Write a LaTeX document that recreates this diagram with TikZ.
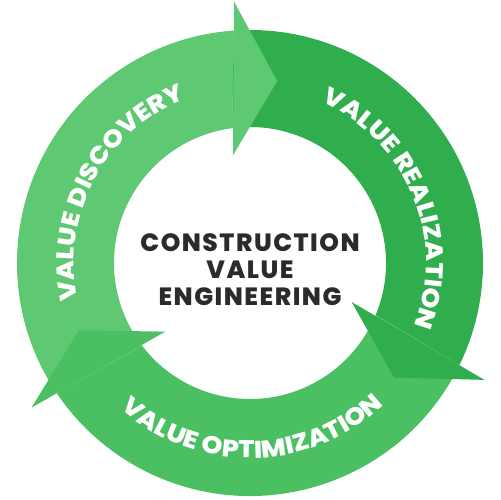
\documentclass[tikz,border=0pt]{standalone}
\usepackage{fontspec}
\setsansfont{Poppins}
\newfontfamily\heavyfont{Poppins ExtraBold}
\newfontfamily\widefont{Poppins ExtraBold}[FakeStretch=1.1]
\usepackage{tikz}
\usetikzlibrary{decorations.text,positioning}

\definecolor{discovery}{RGB}{94,200,114}
\definecolor{realization}{RGB}{48,174,78}
\definecolor{optimization}{RGB}{74,192,98}
\definecolor{titlegray}{RGB}{43,43,43}

\newcommand{\ringout}{233}
\newcommand{\ringin}{136}

\begin{document}
\begin{tikzpicture}
  [
    x=0.02cm,y=0.02cm,
    arclabel/.style={decorate,decoration={text along path,text align=center,text color=white,
      text={|\widefont\fontsize{13.8}{13.8}\selectfont|#1}}},
    title/.style={font=\heavyfont\addfontfeatures{LetterSpace=6}\fontsize{14.2}{15.3}\selectfont,text=titlegray,align=center}
  ]
  \useasboundingbox (-250,-237) rectangle (250,263);
  % bodies first, each one starts under the head of the one before
  \foreach \tip/\col in {81.5/discovery,-38.5/realization,201.5/optimization}
    \fill[\col] (\tip+132.5:\ringout) arc[start angle=\tip+132.5,end angle=\tip+12.5,radius=\ringout]
      -- (\tip+16:\ringin) arc[start angle=\tip+16,end angle=\tip+136,radius=\ringin] -- cycle;
  % heads on top
  \foreach \tip/\col in {81.5/discovery,-38.5/realization,201.5/optimization}
    \fill[\col] (\tip+12:262) -- (\tip:184) -- (\tip+17.5:109) -- cycle;
  % labels along the ring
  \path[arclabel={VALUE DISCOVERY}] (211.7:176) arc[start angle=211.7,end angle=91.7,radius=176];
  \path[arclabel={VALUE REALIZATION}] (82.5:176) arc[start angle=82.5,end angle=-37.5,radius=176];
  \path[arclabel={VALUE OPTIMIZATION}] (210.9:195) arc[start angle=210.9,end angle=330.9,radius=195];
  \node[title] (cve) at (0,-7) {CONSTRUCTION\\VALUE\\ENGINEERING};
\end{tikzpicture}
\end{document}
